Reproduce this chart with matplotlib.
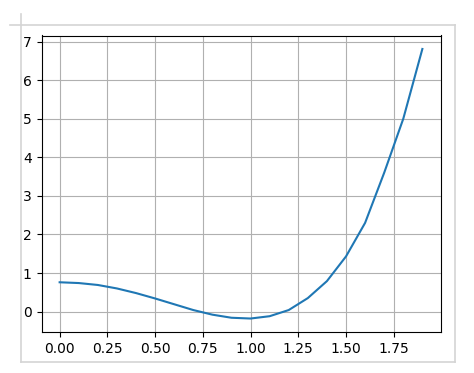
"""Line chart with grid, inside a light grey frame."""

import matplotlib
matplotlib.use("Agg")
import matplotlib.pyplot as plt
from matplotlib.lines import Line2D

x_values = [0.0, 0.1, 0.2, 0.3, 0.4, 0.5, 0.6, 0.7, 0.8, 0.9,
            1.0, 1.1, 1.2, 1.3, 1.4, 1.5, 1.6, 1.7, 1.8, 1.9]
y_values = [0.76, 0.74, 0.69, 0.60, 0.48, 0.34, 0.19, 0.04, -0.08, -0.16,
            -0.18, -0.12, 0.04, 0.35, 0.79, 1.43, 2.30, 3.60, 5.00, 6.81]


def frame_line(fig, xs, ys):
    """Add a thin grey line in figure pixel coordinates."""
    w, h = 474, 373
    fig.add_artist(Line2D([v / w for v in xs], [1 - v / h for v in ys],
                          transform=fig.transFigure, color="#d4d4d4",
                          linewidth=1.2))


def main():
    fig = plt.figure(figsize=(4.74, 3.73), dpi=100)
    ax = fig.add_axes([41.5 / 474, 1 - 332 / 373, 399 / 474, 296.5 / 373])
    ax.plot(x_values, y_values)
    ax.grid(True)

    frame_line(fig, [10, 455], [25, 25])
    frame_line(fig, [21, 21], [14, 362])
    frame_line(fig, [455, 455], [25, 362])
    frame_line(fig, [21, 455], [362, 362])

    fig.savefig("out.png", dpi=100)


if __name__ == "__main__":
    main()
